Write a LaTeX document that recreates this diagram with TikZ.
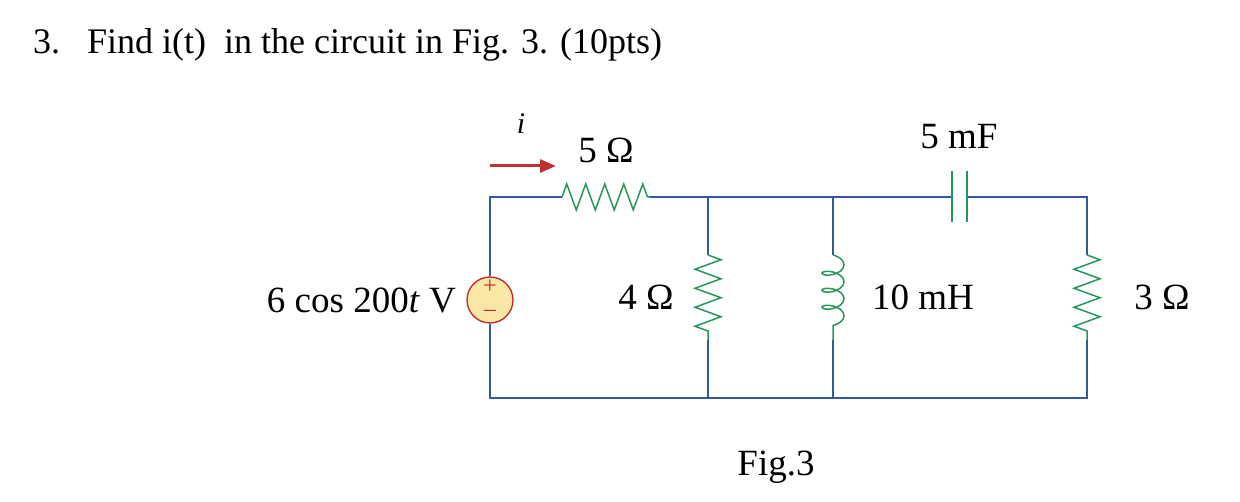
\documentclass[tikz,border=0pt]{standalone}
\usepackage{fontspec}
\setmainfont{Liberation Serif}
\usetikzlibrary{decorations.pathmorphing,arrows.meta}
\definecolor{wire}{RGB}{50,90,160}
\definecolor{comp}{RGB}{40,150,90}
\definecolor{arr}{RGB}{190,50,50}
\definecolor{src}{RGB}{250,230,165}
\begin{document}
\begin{tikzpicture}[x=1pt,y=-1pt,
  w/.style={wire,line width=1.6pt},
  res/.style={comp,line width=1.5pt,decorate,decoration={zigzag,segment length=19pt,amplitude=13pt}},
  ind/.style={comp,line width=1.5pt,decorate,decoration={coil,segment length=17pt,amplitude=11pt,aspect=0.5}},
  lab/.style={font=\fontsize{37}{40}\selectfont,inner sep=0pt}]
\useasboundingbox (0,0) rectangle (1240,502);
\node[lab,anchor=west,font=\fontsize{36}{40}\selectfont] (title) at (33,45) {3.\ \ \ Find i(t)\ \ in the circuit in Fig. 3. (10pts)};
% coordinates
\coordinate (tl) at (490,197); \coordinate (bl) at (490,398);
\coordinate (r1a) at (562,197); \coordinate (r1b) at (650,197);
\coordinate (n1) at (708,197); \coordinate (n1b) at (708,398);
\coordinate (n2) at (833,197); \coordinate (n2b) at (833,398);
\coordinate (ca) at (952,197); \coordinate (cb) at (967,197);
\coordinate (tr) at (1087,197); \coordinate (br) at (1087,398);
\coordinate (r2a) at (708,255); \coordinate (r2b) at (708,340);
\coordinate (la) at (833,255); \coordinate (lb) at (833,340);
\coordinate (r3a) at (1087,255); \coordinate (r3b) at (1087,340);
\node[circle,draw=arr,fill=src,line width=1.4pt,minimum size=46pt,inner sep=0pt] (vs) at (490,300) {};
\node[font=\fontsize{24}{24}\selectfont,text=arr,inner sep=0pt] (plus) at (490,287) {+};
\node[font=\fontsize{24}{24}\selectfont,text=arr,inner sep=0pt] (minus) at (490,313) {--};
% wires
\draw[w] (vs.north) -- (tl) -- (r1a);
\draw[w] (r1b) -- (n1) -- (n2) -- (ca);
\draw[w] (cb) -- (tr) -- (r3a);
\draw[w] (vs.south) -- (bl) -- (n1b) -- (n2b) -- (br) -- (r3b);
\draw[w] (n1) -- (r2a); \draw[w] (r2b) -- (n1b);
\draw[w] (n2) -- (la); \draw[w] (lb) -- (n2b);
% components
\draw[res] (r1a) -- (r1b);
\draw[res] (r2a) -- (r2b);
\draw[res] (r3a) -- (r3b);
\draw[ind] (la) -- (lb);
\draw[comp,line width=1.5pt] (952,171) -- (952,222) (967,171) -- (967,222);
% arrow
\coordinate (ia) at (490,166); \coordinate (ib) at (556,166);
\draw[arr,line width=3pt,-{Triangle[length=16pt,width=13pt]}] (ia) -- (ib);
% labels
\node[lab,font=\itshape\fontsize{30}{30}\selectfont] (li) at (521,124) {i};
\node[lab] (l5) at (606,150) {5 Ω};
\node[lab] (lc) at (959,137) {5 mF};
\node[lab,anchor=east] (lv) at (456,300) {6 cos 200\textit{t} V};
\node[lab] (l4) at (646,297) {4 Ω};
\node[lab] (ll) at (923,297) {10 mH};
\node[lab] (l3) at (1162,297) {3 Ω};
\node[lab] (fig) at (776,467) {Fig.3};
\end{tikzpicture}
\end{document}
